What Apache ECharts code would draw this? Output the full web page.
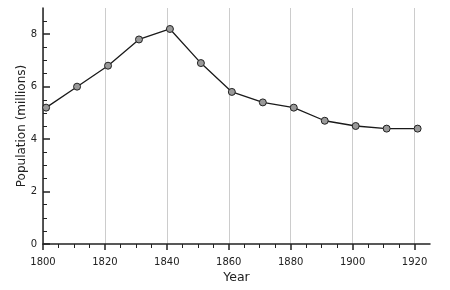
<!DOCTYPE html>
<html>
<head>
<meta charset="utf-8">
<script src="https://cdn.jsdelivr.net/npm/echarts@6/dist/echarts.min.js"></script>
<style>html,body{margin:0;padding:0;background:#fff}#c{width:450px;height:290px}</style>
</head>
<body>
<div id="c"></div>
<script>
var years = [1801, 1811, 1821, 1831, 1841, 1851, 1861, 1871, 1881, 1891, 1901, 1911, 1921];
var population = [5.2, 6.0, 6.8, 7.8, 8.2, 6.9, 5.8, 5.4, 5.2, 4.7, 4.5, 4.4, 4.4];
var xTicks = [1800, 1820, 1840, 1860, 1880, 1900, 1920];
var yTicks = [0, 2, 4, 6, 8];

var xMinor = [];
for (var v = 1805; v < 1920; v += 5) { if (xTicks.indexOf(v) < 0) xMinor.push(v); }
var yMinor = [];
for (var w = 0.5; w < 9; w += 0.5) { if (yTicks.indexOf(w) < 0) yMinor.push(w); }

var data = years.map(function (y, i) { return [y, population[i]]; });
var font = 'DejaVu Sans';
var ink = '#222';
var plain = function (val) { return String(val); };
var chart = echarts.init(document.getElementById('c'));
chart.setOption({
  animation: false,
  backgroundColor: '#fff',
  grid: { left: 43, right: 20, top: 8, bottom: 46, containLabel: false, outerBoundsMode: 'none' },
  xAxis: [{
    type: 'value', min: 1800, max: 1925, position: 'bottom',
    name: 'Year', nameLocation: 'middle', nameGap: 27, nameMoveOverlap: false,
    nameTextStyle: { fontFamily: font, fontSize: 12.5, color: ink },
    axisLine: { lineStyle: { color: ink, width: 1.5 } },
    axisTick: { show: true, length: 6, customValues: xTicks, lineStyle: { color: ink, width: 1.5 } },
    axisLabel: { fontFamily: font, fontSize: 10, color: ink, margin: 13, customValues: xTicks, formatter: plain },
    splitLine: { show: true, lineStyle: { color: '#ccc', width: 1 } }
  }, {
    type: 'value', min: 1800, max: 1925, position: 'bottom',
    axisLine: { show: false },
    axisTick: { show: true, length: 4, customValues: xMinor, lineStyle: { color: ink, width: 1 } },
    axisLabel: { show: false },
    splitLine: { show: false }
  }],
  yAxis: [{
    type: 'value', min: 0, max: 9, position: 'left',
    name: 'Population (millions)', nameLocation: 'middle', nameGap: 15, nameMoveOverlap: false,
    nameTextStyle: { fontFamily: font, fontSize: 12, color: ink },
    axisLine: { show: true, lineStyle: { color: ink, width: 1.5 } },
    axisTick: { show: true, inside: true, length: 7, customValues: yTicks, lineStyle: { color: ink, width: 1.5 } },
    axisLabel: { fontFamily: font, fontSize: 10, color: ink, margin: 6, customValues: yTicks, formatter: plain },
    splitLine: { show: false }
  }, {
    type: 'value', min: 0, max: 9, position: 'left',
    axisLine: { show: false },
    axisTick: { show: true, inside: true, length: 4, customValues: yMinor, lineStyle: { color: ink, width: 1 } },
    axisLabel: { show: false },
    splitLine: { show: false }
  }],
  series: [{
    type: 'line', data: data, xAxisIndex: 0, yAxisIndex: 0,
    lineStyle: { color: '#1a1a1a', width: 1.3 },
    symbol: 'circle', symbolSize: 7,
    itemStyle: { color: '#999', borderColor: '#222', borderWidth: 1 }
  }]
});
</script>
</body>
</html>
